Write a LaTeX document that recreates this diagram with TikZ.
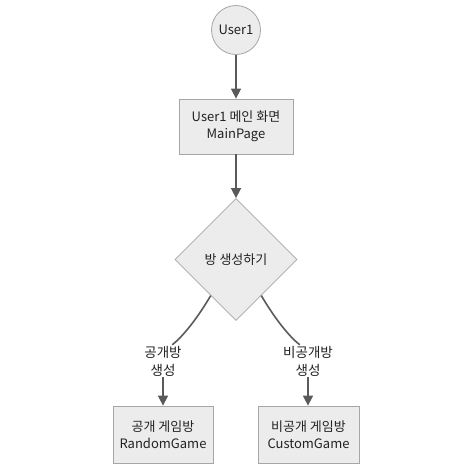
\documentclass[tikz,border=0pt]{standalone}
\usepackage{fontspec}
\setmainfont{Noto Sans CJK KR}
\usetikzlibrary{shapes.geometric,arrows.meta}
\definecolor{boxfill}{HTML}{ECECEC}
\definecolor{boxline}{HTML}{A6A6A6}
\definecolor{conncol}{HTML}{5A5A5A}
\definecolor{txt}{HTML}{222222}
\tikzset{
  base/.style={draw=boxline, fill=boxfill, line width=0.8pt, text=txt, align=center,
    font=\fontsize{13}{17}\selectfont, inner sep=0pt},
  boxnode/.style={base, rectangle},
  circnode/.style={base, circle, minimum size=49pt},
  dianode/.style={base, diamond, minimum size=122pt},
  lbl/.style={fill=white, text=txt, align=center, inner sep=1pt,
    font=\fontsize{13.5}{18}\selectfont},
  conn/.style={draw=conncol, line width=1.6pt},
  arr/.style={conn, -{Triangle[length=10pt,width=10pt]}}
}
\begin{document}
\begin{tikzpicture}[x=1pt,y=-1pt]
\useasboundingbox (0,0) rectangle (474,469);
\node[circnode] (u) at (236,30) {User1};
\node[boxnode, minimum width=114pt, minimum height=55pt] (m) at (236,126.5) {User1 메인 화면\\MainPage};
\node[dianode] (d) at (236,259.5) {방 생성하기};
\node[boxnode, minimum width=100pt, minimum height=57pt] (r1) at (163,434.5) {공개 게임방\\RandomGame};
\node[boxnode, minimum width=101pt, minimum height=57pt] (r2) at (308.5,434.5) {비공개 게임방\\CustomGame};
\node[lbl] (l1) at (163,361) {공개방\\생성};
\node[lbl] (l2) at (308,361) {비공개방\\생성};
\draw[arr] (u) -- (m);
\draw[arr] (m) -- (d);
\draw[conn] (d.235) .. controls (188,334) and (172,345) .. (l1);
\draw[arr] (l1) -- (r1);
\draw[conn] (d.-55) .. controls (284,334) and (300,345) .. (l2);
\draw[arr] (l2) -- (l2 |- r2.north);
\end{tikzpicture}
\end{document}
